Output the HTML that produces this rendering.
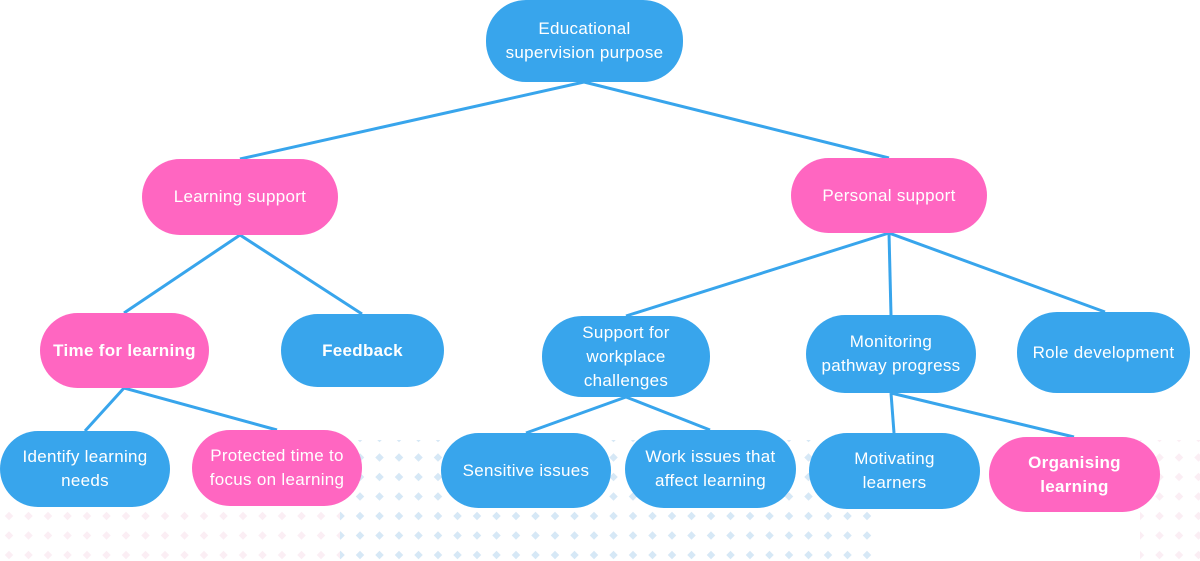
<!DOCTYPE html><html><head><style>
body{margin:0;width:1200px;height:561px;background:#fff;overflow:hidden;font-family:"Liberation Sans",sans-serif}
.n{position:absolute;display:flex;align-items:center;justify-content:center;text-align:center;color:#fff;font-size:17px;line-height:24px;border-radius:40px;letter-spacing:0.3px}
.b{background:#38a5ec}.p{background:#ff66c1}.bd{font-weight:bold}
</style></head><body>
<svg width="1200" height="561" style="position:absolute;left:0;top:0">
<defs><pattern id="d" width="19.5" height="19.5" patternUnits="userSpaceOnUse"><rect x="6" y="6" width="6" height="6" transform="rotate(45 9 9)" fill="#d6e8f6"/></pattern>
<pattern id="e" width="19.5" height="19.5" patternUnits="userSpaceOnUse"><rect x="6" y="6" width="6" height="6" transform="rotate(45 9 9)" fill="#fbeef4"/></pattern></defs>
<rect x="0" y="505" width="350" height="56" fill="url(#e)"/>
<rect x="340" y="440" width="540" height="121" fill="url(#d)"/>
<rect x="1140" y="440" width="60" height="121" fill="url(#e)"/>
<g stroke="#38a5ec" stroke-width="3" fill="none">
<line x1="584" y1="82" x2="240" y2="159"/><line x1="584" y1="82" x2="889" y2="158"/>
<line x1="240" y1="235" x2="124" y2="313"/><line x1="240" y1="235" x2="362" y2="314"/>
<line x1="889" y1="233" x2="626" y2="316"/><line x1="889" y1="233" x2="891" y2="315"/><line x1="889" y1="233" x2="1105" y2="312"/>
<line x1="124" y1="388" x2="85" y2="431"/><line x1="124" y1="388" x2="277" y2="430"/>
<line x1="626" y1="397" x2="526" y2="433"/><line x1="626" y1="397" x2="710" y2="430"/>
<line x1="891" y1="393" x2="894" y2="433"/><line x1="891" y1="393" x2="1074" y2="437"/>
</g></svg>
<div class="n b" style="left:486px;top:0;width:197px;height:82px">Educational<br>supervision purpose</div>
<div class="n p" style="left:142px;top:159px;width:196px;height:76px">Learning support</div>
<div class="n p" style="left:791px;top:158px;width:196px;height:75px">Personal support</div>
<div class="n p bd" style="left:40px;top:313px;width:169px;height:75px">Time for learning</div>
<div class="n b bd" style="left:281px;top:314px;width:163px;height:73px">Feedback</div>
<div class="n b" style="left:542px;top:316px;width:168px;height:81px">Support for<br>workplace<br>challenges</div>
<div class="n b" style="left:806px;top:315px;width:170px;height:78px">Monitoring<br>pathway progress</div>
<div class="n b" style="left:1017px;top:312px;width:173px;height:81px">Role development</div>
<div class="n b" style="left:0;top:431px;width:170px;height:76px">Identify learning<br>needs</div>
<div class="n p" style="left:192px;top:430px;width:170px;height:76px">Protected time to<br>focus on learning</div>
<div class="n b" style="left:441px;top:433px;width:170px;height:75px">Sensitive issues</div>
<div class="n b" style="left:625px;top:430px;width:171px;height:78px">Work issues that<br>affect learning</div>
<div class="n b" style="left:809px;top:433px;width:171px;height:76px">Motivating<br>learners</div>
<div class="n p bd" style="left:989px;top:437px;width:171px;height:75px">Organising<br>learning</div>
</body></html>
